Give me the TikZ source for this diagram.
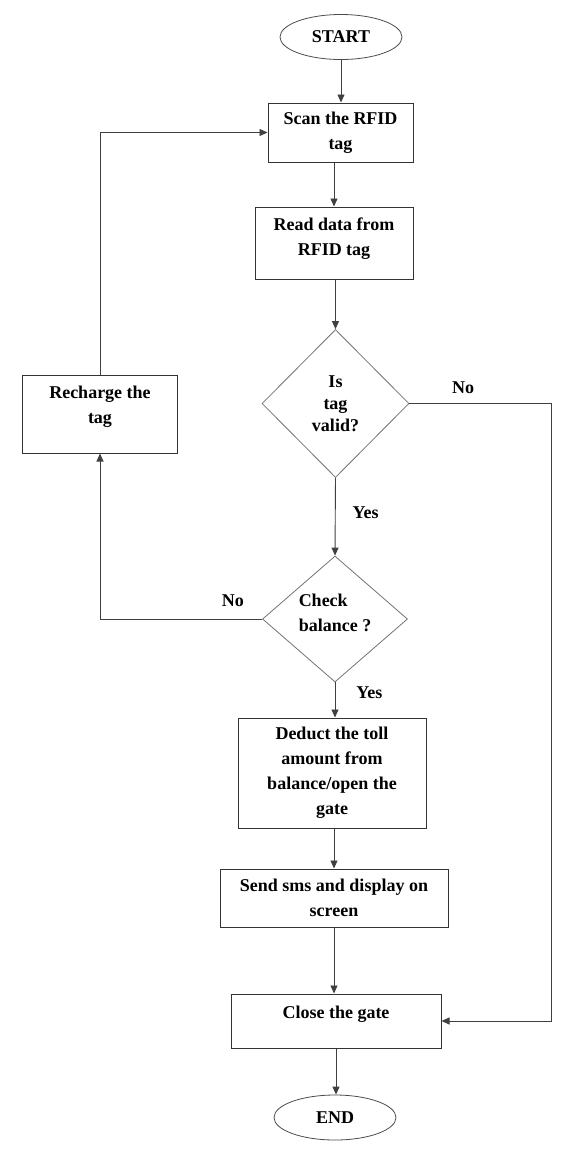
\documentclass[tikz,border=0pt]{standalone}
\usepackage{fontspec}
\setmainfont{Liberation Serif}
\usepackage{tikz}
\usetikzlibrary{arrows.meta, positioning, shapes.geometric, calc}

\begin{document}
\begin{tikzpicture}[x=1pt, y=-1pt,
    font=\fontsize{18}{25}\selectfont\bfseries,
    box/.style={draw=black!80, line width=1pt, rectangle, align=center, inner sep=0pt},
    term/.style={draw=black!70, line width=0.8pt, ellipse, minimum width=122pt, minimum height=45pt, inner sep=0pt},
    decision/.style={draw=black!55, line width=0.8pt, diamond, inner sep=0pt, align=center},
    flow/.style={draw=black!75, line width=0.9pt, -{Triangle[length=8pt, width=7pt]}},
    lbl/.style={inner sep=2pt}]
    \useasboundingbox (0,0) rectangle (572,1160);

    % Main column
    \node[term] (start) at (341,37) {START};
    \node[box, minimum width=145pt, minimum height=59pt] (scan) at (340.5,132.5) {Scan the RFID\\tag};
    \node[box, minimum width=158pt, minimum height=72pt] (read) at (334,243) {Read data from\\RFID tag\rule[-12pt]{0pt}{0pt}};
    \node[decision, minimum width=147pt, minimum height=148pt] (valid) at (335.5,403.5) {Is\\[-3pt]tag\\[-3pt]valid?};
    \node[decision, align=left, minimum width=145pt, minimum height=126pt] (bal) at (335,619) {Check\\balance ?\rule[-12pt]{0pt}{0pt}};
    \node[box, minimum width=188pt, minimum height=110pt] (deduct) at (332,773) {Deduct the toll\\amount from\\balance/open the\\gate};
    \node[box, minimum width=228pt, minimum height=58pt] (sms) at (334,898) {Send sms and display on\\screen};
    \node[box, minimum width=210pt, minimum height=54pt] (close) at (336,1021) {Close the gate\rule[-18pt]{0pt}{0pt}};
    \node[term] (end) at (335,1117.5) {END};

    % Side branch
    \node[box, minimum width=155pt, minimum height=78pt] (recharge) at (100,414) {Recharge the\\tag\rule[-19pt]{0pt}{0pt}};
    \coordinate (rside) at (551,403.5);

    % Connectors
    \draw[flow] (start.south) -- (start.south |- scan.north);
    \draw[flow] (read.north |- scan.south) -- (read.north);
    \draw[flow] (valid.north |- read.south) -- (valid.north);
    \draw[flow] (valid.south) -- node[lbl, right=15pt, pos=0.45] {Yes} (bal.north);
    \draw[flow] (bal.south) -- node[lbl, right=19pt, pos=0.3] {Yes} (bal.south |- deduct.north);
    \draw[flow] (deduct.south -| sms.north) -- (sms.north);
    \draw[flow] (sms.south) -- (sms.south |- close.north);
    \draw[flow] (close.south) -- (close.south |- end.north);

    % Loops
    \draw[flow] (valid.east) -- node[lbl, above=7pt, pos=0.38] {No} (rside) |- (close.east);
    \draw[flow] (bal.west) -| node[lbl, above=10pt, pos=0.09] {No} (recharge.south);
    \draw[flow] (recharge.north) |- (scan.west);
\end{tikzpicture}
\end{document}
